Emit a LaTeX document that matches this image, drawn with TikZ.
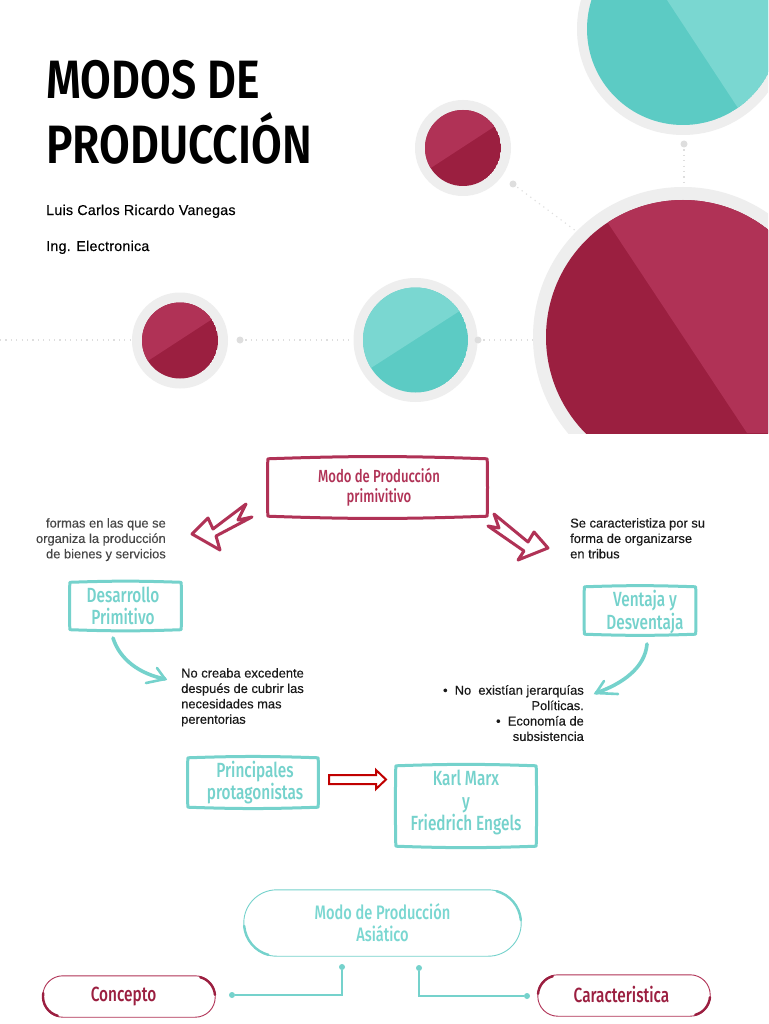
\documentclass[tikz,border=0pt]{standalone}
\usepackage{fontspec}
\usetikzlibrary{calc}
\setmainfont[FakeBold=0.25]{Liberation Sans}
\newfontfamily\cond[FakeStretch=0.75]{Fira Sans Medium}
\newfontfamily\titlef[FakeStretch=0.825]{Fira Sans SemiBold}
\newfontfamily\auth[LetterSpace=1.6,FakeBold=0.25]{Liberation Sans}
\definecolor{crimL}{HTML}{B03256}
\definecolor{crimD}{HTML}{9B1F40}
\definecolor{tealL}{HTML}{7AD7D1}
\definecolor{tealD}{HTML}{5CCBC4}
\definecolor{ring}{HTML}{EEEEEE}
\definecolor{dotg}{HTML}{DEDEDE}
\definecolor{boxteal}{HTML}{75D2CC}
\definecolor{redar}{HTML}{C00000}
\tikzset{
  dotline/.style={draw=dotg,line width=1.1pt,dash pattern=on 1.2pt off 4.2pt},
  gdot/.style={circle,fill=dotg,inner sep=0pt,minimum size=7pt},
  tdot/.style={circle,fill=boxteal,inner sep=0pt,minimum size=6pt},
  bodytxt/.style={font=\fontsize{12.9}{15.4}\selectfont,inner sep=0pt,text=black!90},
  boxtxt/.style={font=\cond\fontsize{20.5}{22.5}\selectfont,align=center,inner sep=0pt},
  tealtxt/.style={boxtxt,text=boxteal},
  sketch/.style={line width=3pt,line cap=round,line join=round},
  hollow/.style={draw=crimL,fill=white,line width=3pt,line join=round},
  curve/.style={draw=boxteal,line width=3.6pt,line cap=round},
  barb/.style={draw=boxteal,line width=2.6pt,line cap=round,line join=miter},
  link/.style={draw=boxteal,line width=1.2pt},
  titletxt/.style={anchor=base west,inner sep=0pt,font=\titlef\fontsize{54}{60}\selectfont},
  authtxt/.style={anchor=base west,inner sep=0pt,font=\auth\fontsize{14.3}{16}\selectfont}
}
\newcommand{\disc}[7]{%
  \fill[ring] (#1,-#2) circle (#4);
  \begin{scope}
    \clip (#1,-#2) circle (#3);
    \fill[#5] (#1,-#2) circle (#3);
    \fill[#6] #7 -- cycle;
  \end{scope}}
\newcommand{\frameit}[2]{%
  \draw[sketch,#2] (#1.north west) to[bend left=2] (#1.north east)
    to[bend left=1] (#1.south east) to[bend left=2] (#1.south west)
    to[bend left=1] cycle;}
\begin{document}
\begin{tikzpicture}[x=1pt,y=1pt]
\useasboundingbox (0,-1024) rectangle (768,0);
\fill[white] (0,-1024) rectangle (768,0);
\begin{scope}
\clip (0,-433) rectangle (768,0);
\draw[dotline] (0,-340) -- (130,-340);
\draw[dotline] (240,-340) -- (353,-340);
\draw[dotline] (478,-340) -- (545,-340);
\draw[dotline] (513,-184) -- (580,-234);
\draw[dotline] (684,-144) -- (684,-196);
\disc{683}{29}{96}{106}{tealD}{tealL}{(667,0) -- (738,-108) -- (800,-108) -- (800,0)}
\disc{683}{337}{137}{150}{crimD}{crimL}{(608,-223) -- (747,-433) -- (830,-433) -- (830,-150) -- (608,-150)}
\disc{463}{148}{38}{48}{crimD}{crimL}{(420,-175) -- (506,-119) -- (506,-100) -- (420,-100)}
\disc{180}{340.5}{38}{48}{crimD}{crimL}{(137,-368) -- (223,-312) -- (223,-290) -- (137,-290)}
\disc{415.5}{340}{52.5}{62}{tealD}{tealL}{(360,-375) -- (458,-312) -- (470,-304) -- (470,-280) -- (360,-280)}
\node[gdot] (d1) at (240,-340) {};
\node[gdot] (d2) at (478,-340) {};
\node[gdot] (d3) at (513,-184) {};
\node[gdot] (d4) at (684,-144) {};
\end{scope}
\node[titletxt] (t1) at (46,-99) {MODOS DE};
\node[titletxt] (t2) at (46,-164) {PRODUCCIÓN};
\node[authtxt] (a1) at (46,-215) {Luis Carlos Ricardo Vanegas};
\node[authtxt] (a2) at (46,-251) {Ing. Electronica};
% boxes
\node[boxtxt,text=crimL,font=\cond\fontsize{17.5}{20}\selectfont,minimum width=219pt,minimum height=57pt] (prim) at (377.5,-487.5) {\hspace*{3pt}Modo de Producción\\\hspace*{3pt}primivitivo};
\frameit{prim}{crimL}
\node[tealtxt,minimum width=111pt,minimum height=47pt] (des) at (125.5,-606) {\hspace*{-5pt}Desarrollo\\\hspace*{-5pt}Primitivo};
\frameit{des}{boxteal}
\node[tealtxt,minimum width=111pt,minimum height=47pt] (ven) at (640,-610.5) {\rule{0pt}{19pt}\hspace*{10pt}Ventaja y\\\hspace*{10pt}Desventaja};
\frameit{ven}{boxteal}
\node[tealtxt,minimum width=130pt,minimum height=49pt] (pri) at (253,-782.5) {\hspace*{4pt}Principales\\\hspace*{4pt}protagonistas};
\frameit{pri}{boxteal}
\node[tealtxt,minimum width=140pt,minimum height=80pt] (kar) at (466,-806) {\rule{0pt}{9pt}\raisebox{0pt}[0pt][3pt]{Karl Marx}\\\raisebox{0pt}[0pt][3pt]{y}\\Friedrich Engels};
\frameit{kar}{boxteal}
% body text
\node[bodytxt,align=right,anchor=north east,text=black!72] (n1) at (166,-518) {formas en las que se\\organiza la producción\\de bienes y servicios};
\node[bodytxt,align=left,anchor=north west] (n2) at (570,-518) {Se caracteristiza por su\\forma de organizarse\\en tribus};
\node[bodytxt,align=left,anchor=north west] (n3) at (181,-668) {No creaba excedente\\después de cubrir las\\necesidades mas\\perentorias};
\node[bodytxt,align=right,anchor=north east] (n4) at (584,-685) {•\ \ No\ \ existían jerarquías\\Políticas.\\•\ \ Economía de\\subsistencia};
% hollow arrows
\draw[hollow] (192,-534) -- (208,-518) -- (213,-529) -- (246,-504) -- (238,-520) -- (252,-517) -- (216,-536) -- (220,-550) -- cycle;
\draw[hollow] (548,-548) -- (534,-532) -- (528,-542) -- (494,-514) -- (499,-528) -- (488,-526) -- (524,-551) -- (518,-560) -- cycle;
% curved connectors
\coordinate (c1s) at (113,-638); \coordinate (c1e) at (165,-679);
\coordinate (c2s) at (647,-644); \coordinate (c2e) at (596,-693);
\draw[curve] (c1s) .. controls (120,-660) and (140,-674) .. (c1e);
\draw[barb] (157,-668) -- (c1e) -- (146,-683);
\draw[curve] (c2s) .. controls (645,-668) and (622,-684) .. (c2e);
\draw[barb] (604,-681) -- (c2e) -- (618,-694);
% red arrow
\draw[draw=redar,fill=white,line width=2pt,line join=miter]
  (329,-775) -- (376,-775) -- (376,-770) -- (386,-779.5) -- (376,-789) -- (376,-784) -- (329,-784) -- cycle;
% pills
\node[boxtxt,text=tealL,font=\cond\fontsize{19.5}{22}\selectfont,minimum width=277pt,minimum height=66pt] (asi) at (382.5,-923) {Modo de Producción\\Asiático};
\draw[boxteal,line width=.9pt,rounded corners=33pt] (asi.north west) rectangle (asi.south east);
\draw[boxteal,line width=2.4pt,line cap=round] (496.5,-891.1) arc[start angle=75,end angle=5,radius=33];
\draw[boxteal,line width=2.4pt,line cap=round] (268.5,-954.9) arc[start angle=255,end angle=185,radius=33];
\node[boxtxt,text=crimD,font=\cond\fontsize{20.5}{22}\selectfont,minimum width=172pt,minimum height=41pt] (con) at (129,-996.5) {\hspace*{-11pt}Concepto};
\draw[crimL,line width=.9pt,rounded corners=20pt] (con.north west) rectangle (con.south east);
\draw[crimD,line width=2.4pt,line cap=round] (200.2,-977.2) arc[start angle=75,end angle=5,radius=20];
\draw[crimD,line width=2.4pt,line cap=round] (57.8,-1015.8) arc[start angle=255,end angle=170,radius=20];
\node[boxtxt,text=crimD,font=\cond\fontsize{20.5}{22}\selectfont,minimum width=172pt,minimum height=41pt] (car) at (624,-994) {\hspace*{-5pt}Caracteristica};
\draw[crimL,line width=.9pt,rounded corners=20pt] ([yshift=-1.5pt]car.north west) rectangle ([yshift=-1.5pt]car.south east);
\draw[crimD,line width=2.4pt,line cap=round] (552.8,-976.2) arc[start angle=105,end angle=175,radius=20];
\draw[crimD,line width=2.4pt,line cap=round] (695.2,-1014.8) arc[start angle=285,end angle=355,radius=20];
% links
\node[tdot] (l1) at (342,-967) {};
\node[tdot] (l2) at (232,-995) {};
\node[tdot] (l3) at (419,-968) {};
\node[tdot] (l4) at (527,-996) {};
\draw[link] (l1) |- (l2);
\draw[link] (l3) |- (l4);
\end{tikzpicture}
\end{document}
